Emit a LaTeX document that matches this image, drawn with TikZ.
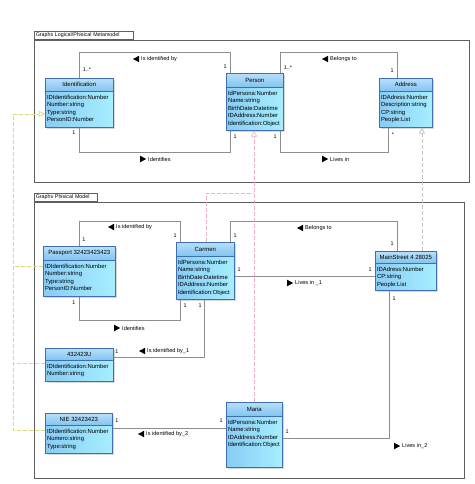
\documentclass[tikz,border=0pt]{standalone}
\usepackage{fontspec}
\setmainfont{Liberation Sans}
\usetikzlibrary{shadows,arrows.meta}
\pgfdeclarelayer{bg}
\pgfsetlayers{bg,main}
\definecolor{frameC}{HTML}{5E5E5E}
\definecolor{connC}{HTML}{8E8E8E}
\definecolor{borderC}{HTML}{3F6FAE}
\definecolor{headT}{HTML}{B8E0FA}
\definecolor{headB}{HTML}{82C3EF}
\definecolor{bodyL}{HTML}{88CCF5}
\definecolor{bodyR}{HTML}{A6EEFF}
\definecolor{pinkC}{HTML}{F2AFC0}
\definecolor{grayD}{HTML}{C4C4C4}
\definecolor{yellC}{HTML}{DADA78}
\tikzset{
  frame/.style={draw=frameC, line width=0.7pt, inner sep=0pt, anchor=north west},
  tabbox/.style={draw=frameC, line width=0.7pt, fill=white, inner xsep=1.5pt, inner ysep=0pt,
    minimum height=8.5pt, anchor=south west, font=\fontsize{5.3}{6}\selectfont, text width=#1, align=left},
  cbody/.style={draw=borderC, line width=0.6pt, left color=bodyL, right color=bodyR, inner sep=0pt,
    drop shadow={shadow xshift=2pt, shadow yshift=-2pt, opacity=0.3}},
  chead/.style={draw=borderC, line width=0.6pt, top color=headT, bottom color=headB, inner sep=0pt,
    font=\fontsize{6}{6.5}\selectfont},
  attr/.style={inner sep=0pt, align=left, font=\fontsize{5.9}{7.6}\selectfont},
  conn/.style={draw=connC, line width=0.7pt},
  lbl/.style={inner sep=0pt, anchor=west, font=\fontsize{5.6}{6}\selectfont},
  mult/.style={inner sep=0pt, font=\fontsize{5.4}{6}\selectfont},
  pinkdash/.style={draw=pinkC, line width=0.6pt, dash pattern=on 4pt off 2pt},
  graydash/.style={draw=grayD, line width=0.8pt, dash pattern=on 4pt off 2pt},
  yelldash/.style={draw=yellC, line width=0.7pt, dash pattern=on 4pt off 2pt},
  opentip/.style={-{Triangle[open, length=6pt, width=6pt, fill=white]}}
}
\newcommand\umlbox[8]{%
  \node[cbody, minimum width=#4pt, minimum height=#5pt, anchor=north west] (#1) at (#2,#3) {};
  \node[chead, minimum width=#4pt, minimum height=#6pt, anchor=north west] (#1-h) at (#1.north west) {#7};
  \node[attr, anchor=north west] (#1-a) at ([xshift=1.8pt,yshift=-3pt]#1-h.south west) {#8};
}
\newcommand\lblL[4]{%
  \node[lbl] (#1) at (#2,#3) {#4};
  \fill ([xshift=-8pt]#1.west) -- ([xshift=-1.8pt,yshift=3.3pt]#1.west) -- ([xshift=-1.8pt,yshift=-3.3pt]#1.west) -- cycle;
}
\newcommand\lblR[4]{%
  \node[lbl] (#1) at (#2,#3) {#4};
  \fill ([xshift=-1.8pt]#1.west) -- ([xshift=-8pt,yshift=3.3pt]#1.west) -- ([xshift=-8pt,yshift=-3.3pt]#1.west) -- cycle;
}
\begin{document}
\begin{tikzpicture}[x=1pt, y=-1pt]
\begin{pgfonlayer}{bg}
\useasboundingbox[fill=white] (0,0) rectangle (474,484);
\end{pgfonlayer}

% frames
\node[frame, minimum width=435pt, minimum height=142pt] (f1) at (34,40) {};
\node[tabbox=96pt] (t1) at (f1.north west) {Graphs Logical/Phisical Metamodel};
\node[frame, minimum width=430pt, minimum height=276pt] (f2) at (34,202) {};
\node[tabbox=60pt] (t2) at (f2.north west) {Graphs Phisical Model};

% classes
\umlbox{ident}{45}{78}{68}{49}{13}{Identification}{IDIdentification:Number\\Number:string\\Type:string\\PersonID:Number}
\umlbox{person}{226}{73}{57}{57}{14}{Person}{IdPersona:Number\\Name:string\\BirthDate:Datetime\\IDAddress:Number\\Identification:Object}
\umlbox{address}{379}{78}{53}{49}{13}{Address}{IDAdress:Number\\Description:string\\CP:string\\People:List}
\umlbox{passport}{43}{246}{72}{50}{14}{Passport 32423423423}{IDIdentification:Number\\Number:string\\Type:string\\PersonID:Number}
\umlbox{carmen}{176}{242}{58}{57}{14}{Carmen}{IdPersona:Number\\Name:string\\BirthDate:Datetime\\IDAddress:Number\\Identification:Object}
\umlbox{mainst}{375}{251}{61}{39}{12}{MainStreet 4 28025}{IDAdress:Number\\CP:string\\People:List}
\umlbox{u432}{45}{348}{68}{33}{12}{432423U}{IDIdentification:Number\\Number:string}
\umlbox{nie}{45}{413}{67}{40}{12}{NIE 32423423}{IDIdentification:Number\\Numero:string\\Type:string}
\umlbox{maria}{226}{402}{56}{65}{14}{Maria}{IdPersona:Number\\Name:string\\IDAddress:Number\\Identification:Object}

\begin{pgfonlayer}{bg}
% top connectors
\draw[conn] (ident.north -| 79,0) |- (230,52) -- (person.north -| 230,0);
\draw[conn] (ident.south -| 79,0) |- (230,152) -- (person.south -| 230,0);
\draw[conn] (address.north -| 397,0) |- (280,52) -- (person.north -| 280,0);
\draw[conn] (person.south -| 280,0) |- (388,152) -- (address.south -| 388,0);
% bottom connectors
\draw[conn] (passport.north -| 79,0) |- (180,221) -- (carmen.north -| 180,0);
\draw[conn] (passport.south -| 79,0) |- (180,320) -- (carmen.south -| 180,0);
\draw[conn] (u432.east |- 0,357) -| (carmen.south -| 204,0);
\draw[conn] (mainst.north -| 397,0) |- (230,221) -- (carmen.north -| 230,0);
\draw[conn] (carmen.east |- 0,276) -- (mainst.west |- 0,276);
\draw[conn] (mainst.south -| 389,0) |- (maria.east |- 0,438);
\draw[conn] (nie.east |- 0,428) -- (maria.west |- 0,428);
\end{pgfonlayer}

% generalizations
\draw[pinkdash] (carmen.north -| 206,0) |- (254,193);
\draw[pinkdash, opentip] (maria.north -| 254,0) -- (person.south -| 254,0);
\draw[graydash, opentip] (mainst.north -| 422,0) -- (address.south -| 422,0);
\draw[yelldash] (passport.west |- 0,266) -- (13,266);
\draw[yelldash] (u432.west |- 0,363) -- (13,363);
\draw[yelldash, opentip] (nie.west |- 0,430) -| (13,114) -- (ident.west |- 0,114);

% association labels
\lblL{l1}{141}{59}{Is identified by}
\lblR{l2}{148}{159}{Identifies}
\lblL{l3}{330}{59}{Belongs to}
\lblR{l4}{330}{159}{Lives in}
\lblL{l5}{116}{227}{Is identified by}
\lblR{l6}{122}{328}{Identifies}
\lblL{l7}{305}{228}{Belongs to}
\lblR{l8}{295}{283}{Lives in \_1}
\lblL{l9}{147}{351}{Is identified by\_1}
\lblL{l10}{146}{434}{Is identified by\_2}
\lblR{l11}{402}{446}{Lives in\_2}

% multiplicities
\node[mult] (m1) at (87,70) {1..*};
\node[mult] (m2) at (225,67) {1};
\node[mult] (m3) at (74,133) {1};
\node[mult] (m4) at (235,137) {1};
\node[mult] (m5) at (288,68) {1..*};
\node[mult] (m6) at (392,71) {1};
\node[mult] (m7) at (275,137) {1};
\node[mult] (m8) at (393,135) {*};
\node[mult] (m9) at (84,240) {1};
\node[mult] (m10) at (175,236) {1};
\node[mult] (m11) at (74,303) {1};
\node[mult] (m12) at (185,306) {1};
\node[mult] (m13) at (200,306) {1};
\node[mult] (m14) at (117,352) {1};
\node[mult] (m15) at (235,236) {1};
\node[mult] (m16) at (392,244) {1};
\node[mult] (m17) at (239,270) {1};
\node[mult] (m18) at (370,270) {1};
\node[mult] (m19) at (394,299) {1};
\node[mult] (m20) at (287,432) {1};
\node[mult] (m21) at (117,421) {1};
\node[mult] (m22) at (221,421) {1};
\end{tikzpicture}
\end{document}
